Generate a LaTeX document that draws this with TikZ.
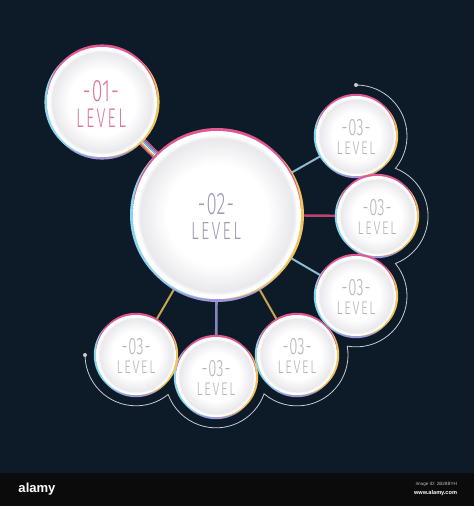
\documentclass[tikz,border=0pt]{standalone}
\usepackage{fontspec}
\setmainfont{Liberation Sans}
\IfFontExistsTF{Fira Sans Light}{\newfontfamily\lvlfont{Fira Sans Light}}{\newfontfamily\lvlfont{Liberation Sans}}
\usetikzlibrary{calc}
\definecolor{bgnavy}{HTML}{0D1A27}
\definecolor{barblack}{HTML}{0B0B0B}
\definecolor{rimpink}{HTML}{E2588E}
\definecolor{rimgold}{HTML}{F2C45A}
\definecolor{rimcyan}{HTML}{8AD6F0}
\definecolor{rimlav}{HTML}{A197D8}
\definecolor{txtpink}{HTML}{D9779D}
\definecolor{txtlav}{HTML}{9C9CB6}
\definecolor{txtgray}{HTML}{B3B3B7}
\definecolor{linkblue}{HTML}{8CBCD2}
\definecolor{linkpink}{HTML}{C2416F}
\definecolor{linkgold}{HTML}{C9A64F}
\definecolor{linklav}{HTML}{8686BD}
\definecolor{arcgray}{HTML}{C9CCD3}
\definecolor{discgray}{HTML}{E9E9ED}
\pgfdeclarelayer{bg}
\pgfdeclarelayer{links}
\pgfsetlayers{bg,links,main}
\pgfdeclareradialshading{discshade}{\pgfpoint{0bp}{0bp}}{color(0bp)=(white); color(15bp)=(white); color(22.8bp)=(discgray); color(24bp)=(white); color(25bp)=(white); color(50bp)=(white)}
\tikzset{
  disc/.style={circle, inner sep=0pt, draw=none, shading=discshade},
  txt/.style={inner sep=0pt, outer sep=0pt},
  link/.style={line width=2pt},
  arcline/.style={draw=arcgray, line width=0.8pt},
}
\newcommand\ringdisc[5]{%
  \fill[rimlav] (#2,#3-#5) circle[radius=#4];
  \fill[rimcyan] (#2-#5,#3) circle[radius=#4];
  \fill[rimgold] (#2+#5,#3) circle[radius=#4];
  \fill[rimpink] (#2,#3+#5) circle[radius=#4];
  \node[disc, minimum size=2*#4] (#1) at (#2,#3) {};
}
\newcommand\lvlword{L\kern.14em E\kern.14em V\kern.14em E\kern.14em L}
\newcommand\smalllevel[4]{% name, x, y, digits
  \node[txt, text=txtgray] (#1n) at (#2,#3+8) {\resizebox{29pt}{16pt}{\lvlfont -\kern.06em #4\kern.06em -}};
  \node[txt, text=txtgray] (#1l) at (#2,#3-12) {\resizebox{39pt}{12.5pt}{\lvlfont\lvlword}};
}
\begin{document}
\begin{tikzpicture}[x=1pt,y=1pt]
\useasboundingbox (0,0) rectangle (474,506);
\begin{pgfonlayer}{bg}
  \fill[bgnavy] (0,0) rectangle (474,506);
  \fill[barblack] (0,0) rectangle (474,33);
\end{pgfonlayer}

% discs
\ringdisc{c1}{102}{404}{55}{2.6}
\ringdisc{c2}{217}{291}{84}{3}
\ringdisc{A}{356}{370}{40}{2.2}
\ringdisc{B}{377}{290}{40}{2.2}
\ringdisc{C}{356}{210}{40}{2.2}
\ringdisc{D}{297}{151}{40}{2.2}
\ringdisc{E}{216}{129}{40}{2.2}
\ringdisc{F}{136}{151}{40}{2.2}

% connectors
\begin{pgfonlayer}{links}
  \draw[link, linkblue] (c2.center) -- (A.center);
  \draw[link, linkpink, line width=2.4pt] (c2.center) -- (B.center);
  \draw[link, linkblue] (c2.center) -- (C.center);
  \draw[link, linkgold] (c2.center) -- (D.center);
  \draw[link, linklav, line width=2.6pt] (c2.center) -- (E.center);
  \draw[link, linkgold] (c2.center) -- (F.center);
  \foreach \k/\col in {-3.6/rimpink,-2.2/rimgold,-0.8/white,0.6/rimcyan,2.0/rimlav,3.4/rimpink}{
    \draw[line width=1.1pt, \col] ($(c1.center)!\k pt!90:(c2.center)$) -- ($(c2.center)!\k pt!-90:(c1.center)$);
  }
\end{pgfonlayer}

% outer arc line
\coordinate (dotS) at ([shift={(90:51)}]A.center);
\coordinate (dotE) at ([shift={(180:51)}]F.center);
\draw[arcline] (dotS)
  arc[start angle=90, end angle=-39.4, radius=51]
  arc[start angle=68.9, end angle=-68.9, radius=51]
  arc[start angle=39.4, end angle=-99.9, radius=51]
  arc[start angle=9.9, end angle=-130.2, radius=51]
  arc[start angle=-19.5, end angle=-159.8, radius=51]
  arc[start angle=-51.0, end angle=-180, radius=51];
\fill[arcgray] (dotS) circle[radius=2];
\fill[arcgray] (dotE) circle[radius=2];

% texts
\node[txt, text=txtpink] (c1n) at (101,414.5) {\resizebox{36pt}{21pt}{\lvlfont -\kern.06em 01\kern.06em -}};
\node[txt, text=txtpink] (c1l) at (101,388) {\resizebox{50pt}{18.5pt}{\lvlfont\lvlword}};
\node[txt, text=txtlav] (c2n) at (216,301.5) {\resizebox{36pt}{21pt}{\lvlfont -\kern.06em 02\kern.06em -}};
\node[txt, text=txtlav] (c2l) at (216,274.5) {\resizebox{50pt}{17pt}{\lvlfont\lvlword}};
\smalllevel{A}{356}{370}{03}
\smalllevel{B}{377}{290}{03}
\smalllevel{C}{356}{210}{03}
\smalllevel{D}{297}{151}{03}
\smalllevel{E}{216}{129}{03}
\smalllevel{F}{136}{151}{03}

% bottom bar
\node[txt, text=white] (logo) at (37,17) {\resizebox{37pt}{!}{\bfseries alamy}};
\node[txt, anchor=east, text=white!75!black, font=\fontsize{4.6}{5}\selectfont] (imgid) at (457,21.5) {Image ID: 2B28BYH};
\node[txt, anchor=east, text=white, font=\bfseries\fontsize{5.6}{6}\selectfont] (url) at (457,12.5) {www.alamy.com};
\end{tikzpicture}
\end{document}
